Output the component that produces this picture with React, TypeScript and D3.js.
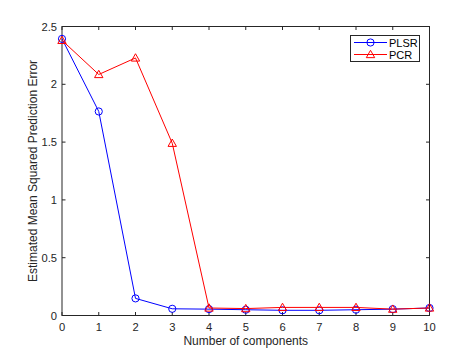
import React from "react";
import * as d3 from "d3";

const components = [0, 1, 2, 3, 4, 5, 6, 7, 8, 9, 10];
const plsr = [2.393, 1.765, 0.148, 0.058, 0.055, 0.05, 0.045, 0.045, 0.05, 0.055, 0.065];
const pcr = [2.38, 2.085, 2.228, 1.49, 0.065, 0.06, 0.07, 0.07, 0.07, 0.055, 0.065];
const yTicks = [0, 0.5, 1, 1.5, 2, 2.5];
const yTickLabels = ["0", "0.5", "1", "1.5", "2", "2.5"];
const seriesNames = ["PLSR", "PCR"];

const W = 474, H = 355;
const L = 62, R = 429.5, T = 26.5, B = 315.5;
const axisColor = "#262626";
const font = "Arial, 'Liberation Sans', Helvetica, sans-serif";

function Tri({ x, y, color }: { x: number; y: number; color: string }) {
  const s = 4.2;
  return (
    <path
      d={`M${x},${y - s} L${x + s},${y + s * 0.75} L${x - s},${y + s * 0.75} Z`}
      fill="none"
      stroke={color}
      strokeWidth={1}
    />
  );
}

export default function App() {
  const x = d3.scaleLinear().domain([0, 10]).range([L, R]);
  const y = d3.scaleLinear().domain([0, 2.5]).range([B, T]);
  const line = d3
    .line<number>()
    .x((_, i) => x(components[i]))
    .y((d) => y(d));
  const blue = "#0000ff";
  const red = "#ff0000";
  return (
    <svg width={W} height={H} style={{ position: "absolute", left: 0, top: 0, background: "#fff" }}>
      <rect x={0} y={0} width={W} height={H} fill="#fff" />
      {/* axes box */}
      <rect x={L} y={T} width={R - L} height={B - T} fill="#fff" stroke={axisColor} strokeWidth={1} />
      {/* x ticks */}
      {components.map((c) => (
        <g key={"xt" + c}>
          <line x1={x(c)} x2={x(c)} y1={B} y2={B - 3.5} stroke={axisColor} />
          <line x1={x(c)} x2={x(c)} y1={T} y2={T + 3.5} stroke={axisColor} />
          <text x={x(c)} y={B + 15} textAnchor="middle" fontSize={11.2} fontFamily={font} fill={axisColor}>
            {c}
          </text>
        </g>
      ))}
      {yTicks.map((v, i) => (
        <g key={"yt" + v}>
          <line x1={L} x2={L + 3.5} y1={y(v)} y2={y(v)} stroke={axisColor} />
          <line x1={R} x2={R - 3.5} y1={y(v)} y2={y(v)} stroke={axisColor} />
          <text x={L - 5} y={y(v) + 4} textAnchor="end" fontSize={11.2} fontFamily={font} fill={axisColor}>
            {yTickLabels[i]}
          </text>
        </g>
      ))}
      <text x={(L + R) / 2} y={345} textAnchor="middle" fontSize={12} fontFamily={font} fill={axisColor}>
        Number of components
      </text>
      <text
        transform={`translate(36.5,${(T + B) / 2}) rotate(-90)`}
        textAnchor="middle"
        fontSize={12}
        fontFamily={font}
        fill={axisColor}
      >
        Estimated Mean Squared Prediction Error
      </text>
      {/* series */}
      <path d={line(plsr) || ""} fill="none" stroke={blue} strokeWidth={1} />
      {plsr.map((v, i) => (
        <circle key={"p" + i} cx={x(components[i])} cy={y(v)} r={3.6} fill="none" stroke={blue} strokeWidth={1} />
      ))}
      <path d={line(pcr) || ""} fill="none" stroke={red} strokeWidth={1} />
      {pcr.map((v, i) => (
        <Tri key={"c" + i} x={x(components[i])} y={y(v)} color={red} />
      ))}
      {/* legend */}
      <rect x={350.5} y={35.5} width={69} height={26} fill="#fff" stroke={axisColor} strokeWidth={1} />
      <line x1={354} x2={387} y1={42.5} y2={42.5} stroke={blue} />
      <circle cx={370.5} cy={42.5} r={3.6} fill="none" stroke={blue} />
      <text x={389} y={46.5} fontSize={11} fontFamily={font} fill="#000">
        {seriesNames[0]}
      </text>
      <line x1={354} x2={387} y1={54.5} y2={54.5} stroke={red} />
      <Tri x={370.5} y={54.5} color={red} />
      <text x={389} y={58.5} fontSize={11} fontFamily={font} fill="#000">
        {seriesNames[1]}
      </text>
    </svg>
  );
}
